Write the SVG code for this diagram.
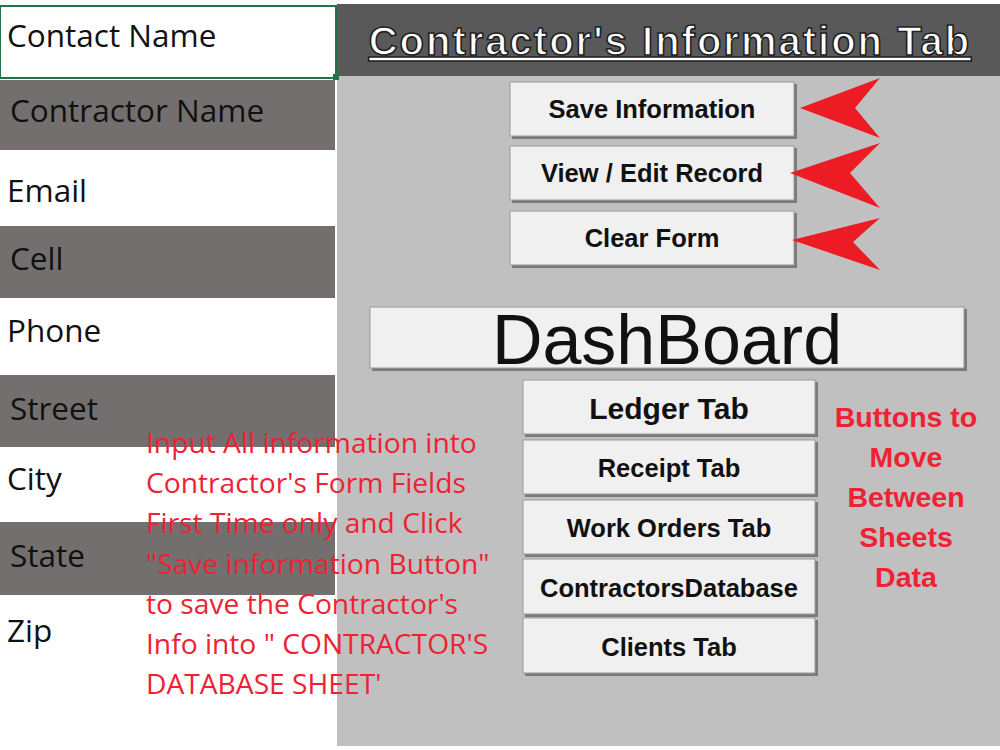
<svg xmlns="http://www.w3.org/2000/svg" width="1000" height="750" viewBox="0 0 1000 750">
<style>
.cell{font-family:"Open Sans","Liberation Sans",sans-serif;font-size:31.5px;fill:#111}
.gr{fill:#736f6e}
.btn{fill:#f0f0f0;stroke:#9a9a9a;stroke-width:1}
.sh{fill:#7a7a7a}
.bt{font-family:"Liberation Sans",Arial,sans-serif;font-weight:bold;font-size:25.5px;fill:#111;text-anchor:middle}
.red{font-family:"Open Sans","Liberation Sans",sans-serif;font-size:28.2px;fill:#ee2233}
.rb{font-family:"Liberation Sans",Arial,sans-serif;font-weight:bold;font-size:28.5px;fill:#ee2233;text-anchor:middle}
.arr{fill:#ed1c24}
</style>
<rect width="1000" height="750" fill="#fff"/>
<rect x="337" y="4" width="663" height="742" fill="#c0c0c0"/>
<rect x="337" y="4" width="663" height="72" fill="#595959"/>
<text x="670" y="55" text-anchor="middle" font-family="Liberation Sans,Arial,sans-serif" font-weight="bold" font-size="40" letter-spacing="2" fill="#fff" stroke="#222" stroke-width="1.6" text-decoration="underline">Contractor's Information Tab</text>
<g id="fields">
<rect x="0" y="6" width="336" height="72" fill="#fff" stroke="#217346" stroke-width="2"/>
<rect x="333" y="74" width="6" height="6" fill="#217346"/>
<text class="cell" x="7" y="47">Contact Name</text>
<rect class="gr" x="0" y="80" width="335" height="70"/>
<text class="cell" x="10" y="122">Contractor Name</text>
<text class="cell" x="7" y="202">Email</text>
<rect class="gr" x="0" y="226" width="335" height="72"/>
<text class="cell" x="10" y="270">Cell</text>
<text class="cell" x="7" y="342">Phone</text>
<rect class="gr" x="0" y="375" width="335" height="72"/>
<text class="cell" x="10" y="420">Street</text>
<text class="cell" x="7" y="490">City</text>
<rect class="gr" x="0" y="522" width="335" height="73"/>
<text class="cell" x="10" y="567">State</text>
<text class="cell" x="7" y="642">Zip</text>
</g>
<g id="btn-save"><rect class="sh" x="512" y="84" width="285" height="55"/><rect class="btn" x="510" y="82" width="284" height="54"/><text class="bt" x="652" y="118">Save Information</text></g>
<g id="btn-view"><rect class="sh" x="512" y="148" width="285" height="55"/><rect class="btn" x="510" y="146" width="284" height="54"/><text class="bt" x="652" y="182">View / Edit Record</text></g>
<g id="btn-clear"><rect class="sh" x="512" y="213" width="285" height="55"/><rect class="btn" x="510" y="211" width="284" height="54"/><text class="bt" x="652" y="247">Clear Form</text></g>
<g id="arrows">
<polygon class="arr" points="800,108 880,78 855,108 880,138"/>
<polygon class="arr" points="790,173 880,143 850,173 880,208"/>
<polygon class="arr" points="792,240 880,218 853,242 880,270"/>
</g>
<g id="dashboard"><rect class="sh" x="372" y="309" width="595" height="62"/><rect class="btn" x="370" y="307" width="594" height="61"/><text x="667" y="364" text-anchor="middle" font-family="Liberation Sans,Arial,sans-serif" font-size="70" fill="#111">DashBoard</text></g>
<g id="btn-ledger"><rect class="sh" x="525" y="382" width="293" height="55"/><rect class="btn" x="523" y="380" width="292" height="54"/><text class="bt" x="669" y="419" style="font-size:30px">Ledger Tab</text></g>
<g id="btn-receipt"><rect class="sh" x="525" y="442" width="293" height="55"/><rect class="btn" x="523" y="440" width="292" height="54"/><text class="bt" x="669" y="477">Receipt Tab</text></g>
<g id="btn-work"><rect class="sh" x="525" y="502" width="293" height="55"/><rect class="btn" x="523" y="500" width="292" height="54"/><text class="bt" x="669" y="537">Work Orders Tab</text></g>
<g id="btn-db"><rect class="sh" x="525" y="561" width="293" height="56"/><rect class="btn" x="523" y="559" width="292" height="55"/><text class="bt" x="669" y="597">ContractorsDatabase</text></g>
<g id="btn-clients"><rect class="sh" x="525" y="620" width="293" height="56"/><rect class="btn" x="523" y="618" width="292" height="55"/><text class="bt" x="669" y="656">Clients Tab</text></g>
<g id="note-buttons">
<text class="rb" x="906" y="427">Buttons to</text>
<text class="rb" x="906" y="467">Move</text>
<text class="rb" x="906" y="507">Between</text>
<text class="rb" x="906" y="547">Sheets</text>
<text class="rb" x="906" y="587">Data</text>
</g>
<g id="note-input">
<text class="red" x="146" y="453">Input All information into</text>
<text class="red" x="146" y="493">Contractor's Form Fields</text>
<text class="red" x="146" y="533">First Time only and Click</text>
<text class="red" x="146" y="574">"Save information Button"</text>
<text class="red" x="146" y="614">to save the Contractor's</text>
<text class="red" x="146" y="654">Info into " CONTRACTOR'S</text>
<text class="red" x="146" y="694">DATABASE SHEET'</text>
</g>
</svg>
